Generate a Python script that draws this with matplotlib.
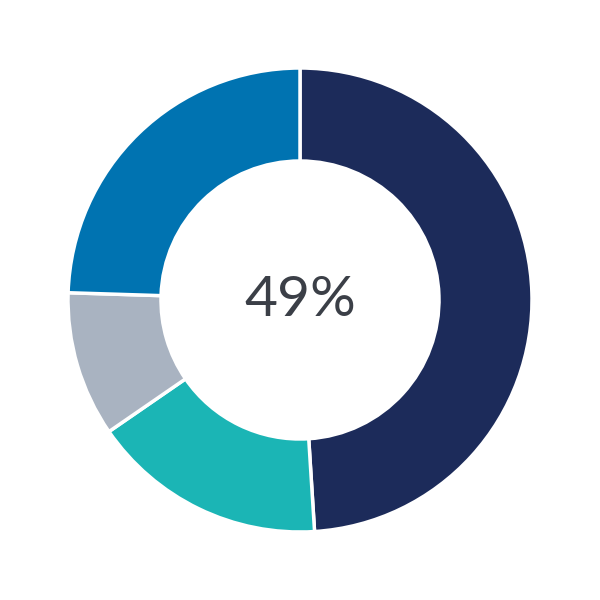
import matplotlib
matplotlib.use("Agg")
import matplotlib.pyplot as plt

labels = ["Navy", "Teal", "Gray", "Blue"]
values = [49, 16.4, 10.1, 24.5]
colors = ["#1c2b5a", "#1bb5b5", "#a9b3c1", "#0073b1"]
center_text = "49%"

fig = plt.figure(figsize=(6, 6), dpi=100)
ax = fig.add_axes([0, 0, 1, 1])
ax.set_xlim(-300, 300)
ax.set_ylim(-300, 300)
ax.set_aspect("equal")
ax.axis("off")

ax.pie(values, colors=colors, startangle=90, counterclock=False,
       radius=232, center=(0, 0), frame=False,
       wedgeprops=dict(width=93, edgecolor="white", linewidth=2.5))
ax.set_xlim(-300, 300)
ax.set_ylim(-300, 300)
ax.text(0, -1, center_text, ha="center", va="center", fontsize=41,
        family=["Lato", "DejaVu Sans"], fontweight="normal", color="#3b3f47")

fig.savefig("out.png", dpi=100, facecolor="white")
